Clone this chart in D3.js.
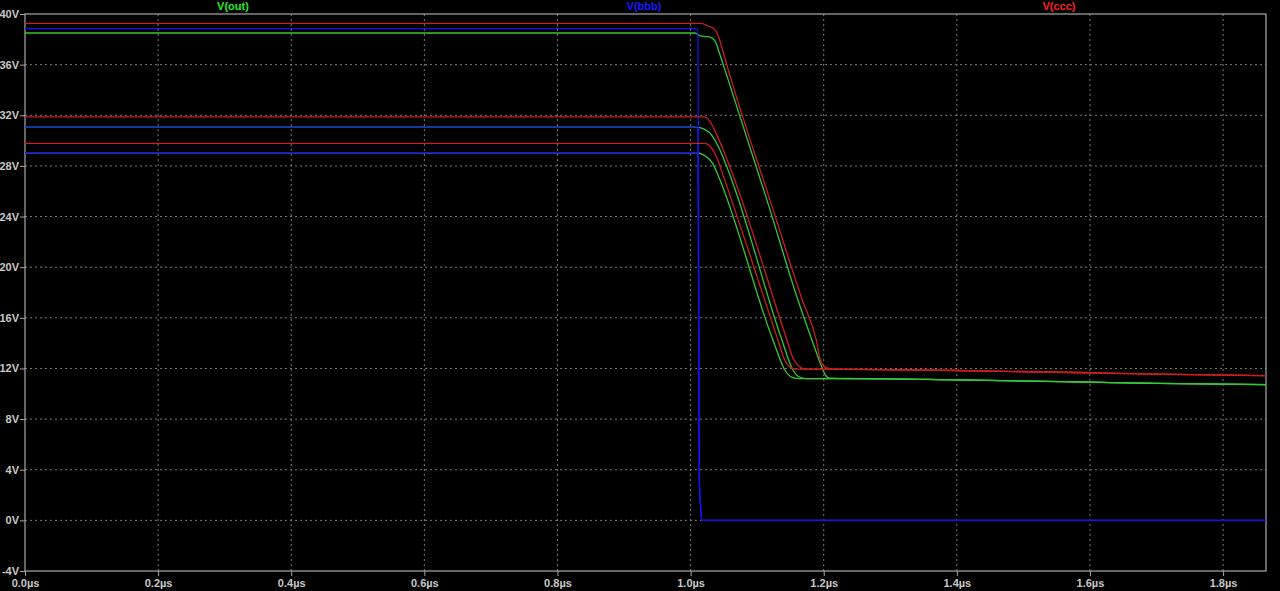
<!DOCTYPE html>
<html>
<head>
<meta charset="utf-8">
<script src="https://cdn.jsdelivr.net/npm/d3@7"></script>
<style>
    html, body { margin: 0; padding: 0; background: #000; }
    #chart { width: 1280px; height: 591px; }
</style>
</head>
<body>
<div id="chart"></div>
<script>
// tick values of both axes
var xTicks = [0, 0.2, 0.4, 0.6, 0.8, 1.0, 1.2, 1.4, 1.6, 1.8];
var yTicks = [-4, 0, 4, 8, 12, 16, 20, 24, 28, 32, 36, 40];

// trace names shown on top of the plot
var traceNames = ["V(out)", "V(bbb)", "V(ccc)"];

// V(out), one array per step run, points are [time in µs, volts]
var outRun1 = [[0, 38.5], [1.0066, 38.5], [1.0141, 38.28], [1.0216, 38.22], [1.0291, 38.18], [1.0367, 37.87], [1.0427, 37.0], [1.0517, 35.57],
    [1.1148, 25.3], [1.1614, 17.39], [1.1824, 14.23], [1.1944, 12.49], [1.2019, 11.54], [1.2094, 11.23],
    [1.25, 11.2], [1.4, 11.1], [1.6, 10.92], [1.7, 10.82], [1.8645, 10.72]];
var outRun2 = [[0, 31.07], [1.0066, 31.07], [1.0141, 31.03], [1.0216, 30.87], [1.0291, 30.59], [1.0337, 30.28], [1.0427, 29.41], [1.0592, 27.27],
    [1.1373, 14.23], [1.1524, 12.02], [1.1614, 11.38], [1.1734, 11.2],
    [1.25, 11.2], [1.4, 11.1], [1.6, 10.92], [1.7, 10.82], [1.8645, 10.72]];
var outRun3 = [[0, 29.04], [1.0096, 29.04], [1.0186, 28.89], [1.0261, 28.62], [1.0337, 28.14], [1.0412, 27.27],
    [1.1238, 14.23], [1.1418, 11.86], [1.1524, 11.3], [1.1644, 11.2],
    [1.25, 11.2], [1.4, 11.1], [1.6, 10.92], [1.7, 10.82], [1.8645, 10.72]];

// V(bbb)
var bbbRun1 = [[0, 38.84], [1.0096, 38.84], [1.0111, 38.0], [1.0121, 20], [1.0131, 3.2], [1.0152, 1.0], [1.0167, 0], [1.8645, 0]];
var bbbRun2 = [[0, 31.07], [1.0096, 31.07], [1.0111, 30.3], [1.0121, 18], [1.0131, 3.2], [1.0152, 1.0], [1.0167, 0], [1.8645, 0]];
var bbbRun3 = [[0, 29.04], [1.0096, 29.04], [1.0111, 28.3], [1.0121, 16], [1.0131, 3.2], [1.0152, 1.0], [1.0167, 0], [1.8645, 0]];

// V(ccc)
var cccRun1 = [[0, 39.26], [1.0141, 39.26], [1.0201, 39.21], [1.0261, 39.05], [1.0337, 38.89], [1.0412, 38.34], [1.0472, 37.31], [1.0567, 35.57],
    [1.1193, 25.3], [1.1679, 17.39], [1.1889, 14.23], [1.1949, 12.65], [1.2024, 12.09], [1.2144, 11.94],
    [1.25, 11.93], [1.4, 11.84], [1.6, 11.66], [1.7, 11.55], [1.8645, 11.44]];
var cccRun2 = [[0, 31.88], [1.0186, 31.88], [1.0246, 31.78], [1.0306, 31.38], [1.0382, 30.59], [1.0472, 29.49], [1.0637, 27.27],
    [1.1448, 14.23], [1.1539, 12.81], [1.1629, 12.17], [1.1734, 11.94],
    [1.25, 11.93], [1.4, 11.84], [1.6, 11.66], [1.7, 11.55], [1.8645, 11.44]];
var cccRun3 = [[0, 29.78], [1.0216, 29.78], [1.0276, 29.64], [1.0337, 29.25], [1.0397, 28.62], [1.0487, 27.27],
    [1.1313, 14.23], [1.1403, 12.81], [1.1478, 12.17], [1.1584, 11.94],
    [1.25, 11.93], [1.4, 11.84], [1.6, 11.66], [1.7, 11.55], [1.8645, 11.44]];

// plot dimensions
var width = 1280, height = 591;
var margin = {top: 14, right: 14, bottom: 20, left: 25};

var svg = d3.select("#chart").append("svg").attr("width", width).attr("height", height)
    .style("background", "#000");

var x = d3.scaleLinear().domain([0, 1.8645]).range([margin.left, width - margin.right]);
var y = d3.scaleLinear().domain([-4, 40]).range([height - margin.bottom, margin.top]);

var gridColor = "#7a7a7a", frameColor = "#a8a8a8", labelColor = "#c8c8c8";

// dotted grid lines
svg.append("g").selectAll("line").data(xTicks.filter(function(d) { return d > 0; })).enter().append("line")
    .attr("x1", function(d) { return x(d); }).attr("x2", function(d) { return x(d); })
    .attr("y1", y(40)).attr("y2", y(-4))
    .attr("stroke", gridColor).attr("stroke-dasharray", "2,3");
svg.append("g").selectAll("line").data(yTicks.filter(function(d) { return d > -4 && d < 40; })).enter().append("line")
    .attr("x1", x(0)).attr("x2", x.range()[1])
    .attr("y1", function(d) { return y(d); }).attr("y2", function(d) { return y(d); })
    .attr("stroke", gridColor).attr("stroke-dasharray", "2,3");

// axes (ticks point outwards, domain replaced by the frame)
var xAxis = svg.append("g").attr("transform", "translate(0," + y(-4) + ")")
    .call(d3.axisBottom(x).tickValues(xTicks).tickSize(5).tickPadding(3)
        .tickFormat(function(d) { return d3.format(".1f")(d) + "µs"; }));
var yAxis = svg.append("g").attr("transform", "translate(" + x(0) + ",0)")
    .call(d3.axisLeft(y).tickValues(yTicks).tickSize(5).tickPadding(1)
        .tickFormat(function(d) { return d + "V"; }));
[xAxis, yAxis].forEach(function(a) {
    a.select(".domain").remove();
    a.selectAll(".tick line").attr("stroke", frameColor);
    a.selectAll(".tick text").attr("fill", labelColor)
        .style("font-family", "'Liberation Sans', Arial, sans-serif")
        .style("font-size", "11px").style("font-weight", "bold");
});

// frame around the plot
svg.append("rect").attr("x", x(0)).attr("y", y(40))
    .attr("width", x.range()[1] - x(0)).attr("height", y(-4) - y(40))
    .attr("fill", "none").attr("stroke", frameColor).attr("stroke-width", 1.2);

// drawing the traces: green first, blue over it, red last
var line = d3.line()
    .x(function(d) { return x(d[0]); })
    .y(function(d) { return y(d[1]); })
    .curve(d3.curveMonotoneX);

var traces = [
    {runs: [outRun1, outRun2, outRun3], color: "#34c834"},
    {runs: [bbbRun1, bbbRun2, bbbRun3], color: "#1414e6"},
    {runs: [cccRun1, cccRun2, cccRun3], color: "#c81e1e"}
];
var plot = svg.append("g");
traces.forEach(function(t) {
    plot.selectAll(null).data(t.runs).enter().append("path")
        .attr("d", line).attr("fill", "none")
        .attr("stroke", t.color).attr("stroke-width", 1.3);
});

// trace titles above the plot
var titleX = [233, 644, 1059];
var titleColors = ["#22ee22", "#1a1aff", "#ff2020"];
svg.selectAll(".title").data(traceNames).enter().append("text")
    .attr("class", "title")
    .attr("x", function(d, i) { return titleX[i]; }).attr("y", 10)
    .attr("text-anchor", "middle")
    .attr("fill", function(d, i) { return titleColors[i]; })
    .style("font-family", "'Liberation Sans', Arial, sans-serif")
    .style("font-size", "11px").style("font-weight", "bold")
    .text(function(d) { return d; });
</script>
</body>
</html>
